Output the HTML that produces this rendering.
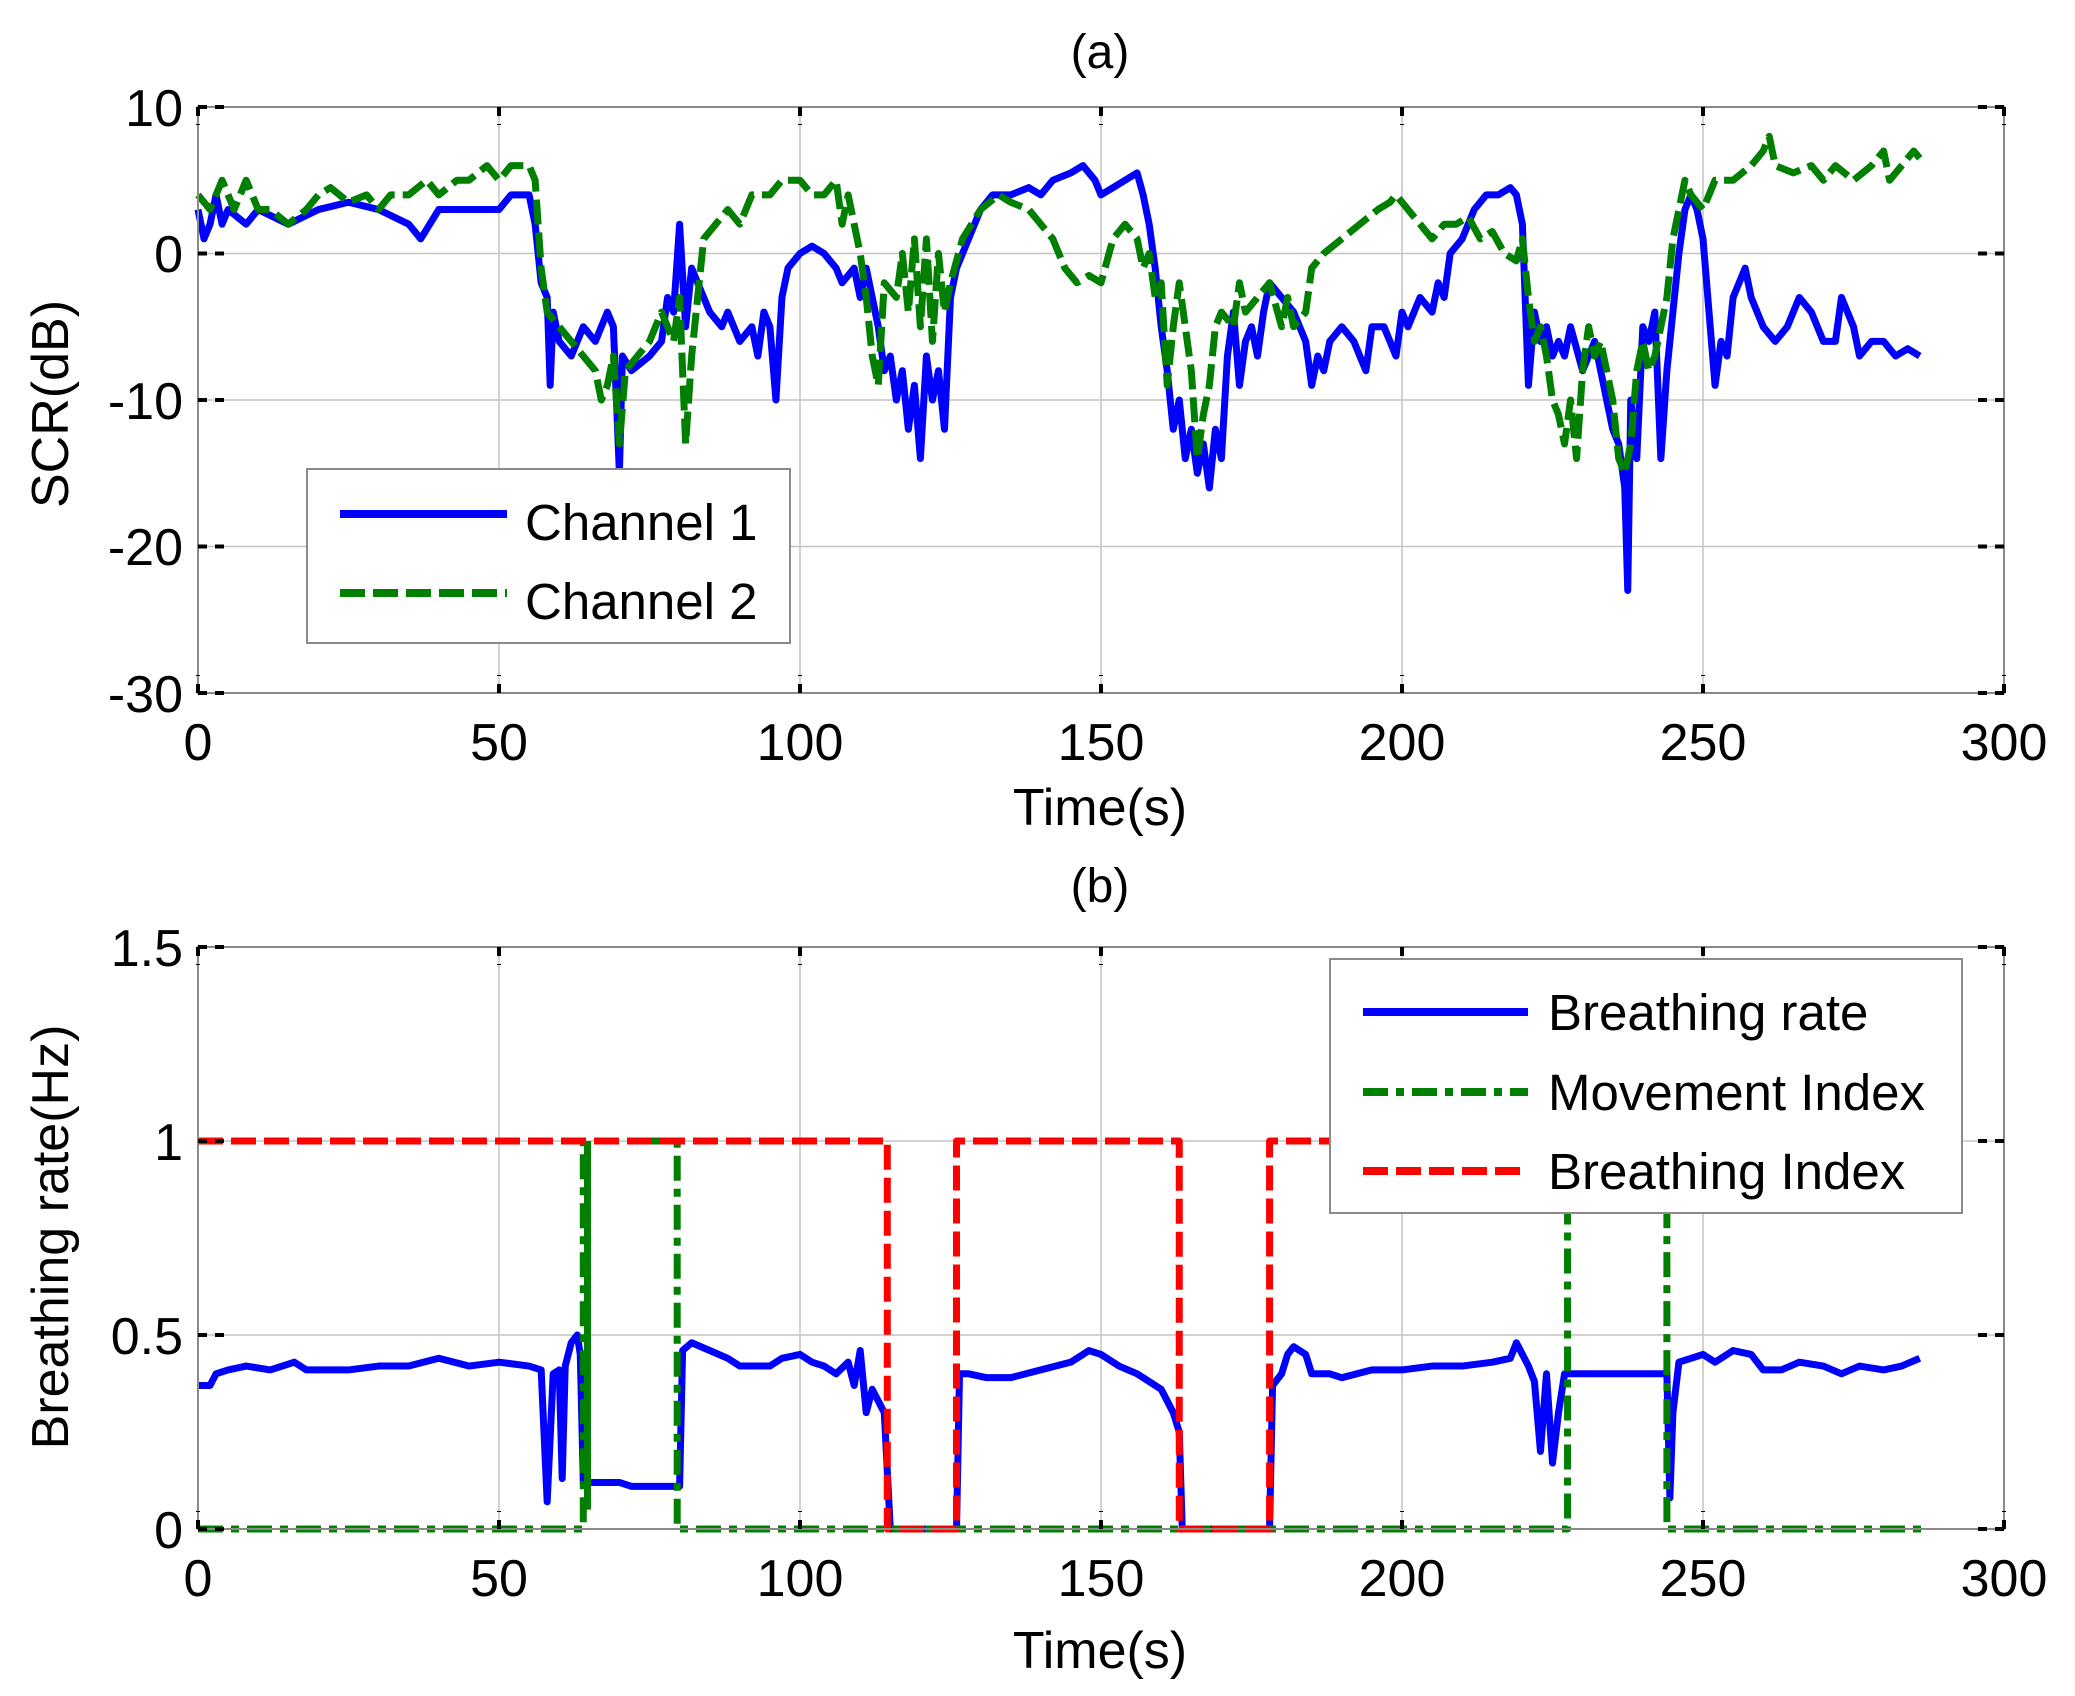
<!DOCTYPE html>
<html><head><meta charset="utf-8"><style>
html,body{margin:0;padding:0;background:#fff;}
svg{display:block;font-family:"Liberation Sans",sans-serif;}
</style></head><body>
<svg width="2075" height="1696" viewBox="0 0 2075 1696" xmlns="http://www.w3.org/2000/svg">
<rect width="2075" height="1696" fill="#fff"/>
<g stroke="#c4c4c4" stroke-width="1.5">
<line x1="499" y1="107" x2="499" y2="693"/><line x1="800" y1="107" x2="800" y2="693"/><line x1="1101" y1="107" x2="1101" y2="693"/><line x1="1402" y1="107" x2="1402" y2="693"/><line x1="1703" y1="107" x2="1703" y2="693"/>
<line x1="198" y1="253.5" x2="2004" y2="253.5"/><line x1="198" y1="400" x2="2004" y2="400"/><line x1="198" y1="546.5" x2="2004" y2="546.5"/>
<line x1="499" y1="947" x2="499" y2="1529"/><line x1="800" y1="947" x2="800" y2="1529"/><line x1="1101" y1="947" x2="1101" y2="1529"/><line x1="1402" y1="947" x2="1402" y2="1529"/><line x1="1703" y1="947" x2="1703" y2="1529"/>
<line x1="198" y1="1141" x2="2004" y2="1141"/><line x1="198" y1="1335" x2="2004" y2="1335"/>
</g>
<g fill="none" stroke-linejoin="round">
<path transform="matrix(6.02,0,0,-14.65,198,253.5)" vector-effect="non-scaling-stroke" stroke="#0000ff" stroke-width="7" d="M0 3 L1 1 L2 2 L3 4 L4 2 L5 3 L8 2 L10 3 L15 2 L20 3 L25 3.5 L30 3 L35 2 L37 1 L40 3 L45 3 L50 3 L52 4 L55 4 L56 2 L57 -2 L58 -3 L58.5 -9 L59 -4 L60 -6 L62 -7 L64 -5 L66 -6 L68 -4 L69 -5 L70 -15 L70.5 -7 L72 -8 L75 -7 L77 -6 L78 -3 L79 -4 L80 2 L81 -5 L82 -1 L84 -3 L85 -4 L87 -5 L88 -4 L90 -6 L92 -5 L93 -7 L94 -4 L95 -5 L96 -10 L97 -3 L98 -1 L100 0 L102 0.5 L104 0 L106 -1 L107 -2 L109 -1 L110 -3 L111 -1 L112 -3 L113 -5 L114 -8 L115 -7 L116 -10 L117 -8 L118 -12 L119 -9 L120 -14 L121 -7 L122 -10 L123 -8 L124 -12 L125 -3 L126 -1 L128 1 L130 3 L132 4 L135 4 L138 4.5 L140 4 L142 5 L145 5.5 L147 6 L149 5 L150 4 L152 4.5 L154 5 L156 5.5 L157 4 L158 2 L159 -1 L160 -5 L161 -8 L162 -12 L163 -10 L164 -14 L165 -12 L166 -15 L167 -13 L168 -16 L169 -12 L170 -14 L171 -7 L172 -4 L173 -9 L174 -6 L175 -5 L176 -7 L177 -4 L178 -2 L180 -3 L182 -4 L184 -6 L185 -9 L186 -7 L187 -8 L188 -6 L190 -5 L192 -6 L194 -8 L195 -5 L197 -5 L199 -7 L200 -4 L201 -5 L203 -3 L205 -4 L206 -2 L207 -3 L208 0 L210 1 L212 3 L214 4 L216 4 L218 4.5 L219 4 L220 2 L221 -9 L222 -4 L223 -6 L224 -5 L225 -7 L226 -6 L227 -7 L228 -5 L230 -8 L232 -6 L234 -10 L235 -12 L236 -13 L237 -16 L237.5 -23 L238 -10 L239 -14 L240 -5 L241 -6 L242 -4 L243 -14 L244 -8 L245 -4 L246 0 L247 3 L248 4 L249 3 L250 1 L251 -4 L252 -9 L253 -6 L254 -7 L255 -3 L256 -2 L257 -1 L258 -3 L260 -5 L262 -6 L264 -5 L266 -3 L268 -4 L270 -6 L272 -6 L273 -3 L275 -5 L276 -7 L278 -6 L280 -6 L282 -7 L284 -6.5 L286 -7"/>
<path transform="matrix(6.02,0,0,-14.65,198,253.5)" vector-effect="non-scaling-stroke" stroke="#007f00" stroke-width="7" stroke-dasharray="25,8" d="M0 4 L2 3 L4 5 L6 3 L8 5 L10 3 L12 3 L15 2 L18 3 L20 4 L22 4.5 L25 3.5 L28 4 L30 3 L32 4 L35 4 L38 5 L40 4 L43 5 L45 5 L48 6 L50 5 L52 6 L55 6 L56 5 L57 -1 L58 -4 L60 -5 L62 -6 L64 -7 L66 -8 L67 -10 L68 -9 L69 -7 L70 -13 L71 -8 L73 -7 L75 -6 L77 -4 L78 -5 L79 -6 L80 -3 L81 -13 L82 -7 L83 -3 L84 1 L86 2 L88 3 L90 2 L92 4 L95 4 L97 5 L100 5 L102 4 L104 4 L106 5 L107 2 L108 4 L110 0 L111 -3 L112 -7 L113 -9 L114 -2 L116 -3 L117 0 L118 -4 L119 1 L120 -5 L121 1 L122 -6 L123 0 L124 -4 L125 -2 L127 1 L130 3 L133 4 L135 3.5 L138 3 L140 2 L142 1 L144 -1 L146 -2 L148 -1.5 L150 -2 L152 1 L154 2 L156 1 L157 -1 L158 0 L159 -3 L160 -2 L161 -9 L162 -5 L163 -2 L164 -5 L165 -8 L166 -14 L167 -11 L168 -9 L169 -5 L170 -4 L172 -5 L173 -2 L174 -4 L176 -3 L178 -2 L180 -5 L181 -3 L182 -5 L184 -4 L185 -1 L187 0 L190 1 L193 2 L196 3 L198 3.5 L199 4 L201 3 L203 2 L205 1 L207 2 L209 2 L211 2.5 L213 1 L215 1.5 L217 0 L219 -0.5 L220 1 L221 -3 L222 -6 L223 -5 L224 -7 L225 -10 L226 -11 L227 -13 L228 -10 L229 -14 L230 -8 L231 -5 L232 -7 L233 -6 L235 -10 L236 -14 L237 -15 L238 -13 L239 -8 L240 -6 L241 -8 L242 -7 L244 -3 L245 1 L246 3 L247 5 L248 4 L250 3 L252 5 L255 5 L258 6 L260 7 L261 8 L262 6 L265 5.5 L268 6 L270 5 L272 6 L275 5 L278 6 L280 7 L281 5 L283 6 L285 7 L286 6.5"/>
<path transform="matrix(6.02,0,0,-388,198,1529)" vector-effect="non-scaling-stroke" stroke="#0000ff" stroke-width="7" d="M0 0.37 L2 0.37 L3 0.4 L5 0.41 L8 0.42 L12 0.41 L16 0.43 L18 0.41 L25 0.41 L30 0.42 L35 0.42 L40 0.44 L45 0.42 L50 0.43 L55 0.42 L57 0.41 L58 0.07 L59 0.4 L60 0.41 L60.5 0.13 L61 0.42 L62 0.48 L63 0.5 L63.5 0.45 L64 0.12 L70 0.12 L72 0.11 L80 0.11 L80.5 0.46 L82 0.48 L85 0.46 L88 0.44 L90 0.42 L95 0.42 L97 0.44 L100 0.45 L102 0.43 L104 0.42 L106 0.4 L108 0.43 L109 0.37 L110 0.46 L111 0.3 L112 0.36 L113 0.33 L114 0.3 L115 0 L126 0 L126.5 0.4 L128 0.4 L131 0.39 L135 0.39 L140 0.41 L145 0.43 L148 0.46 L150 0.45 L153 0.42 L156 0.4 L160 0.36 L162 0.3 L163 0.25 L163.5 0 L178 0 L178.5 0.37 L180 0.4 L181 0.45 L182 0.47 L184 0.45 L185 0.4 L188 0.4 L190 0.39 L195 0.41 L200 0.41 L205 0.42 L210 0.42 L215 0.43 L218 0.44 L219 0.48 L220 0.45 L221 0.42 L222 0.38 L223 0.2 L224 0.4 L225 0.17 L226 0.3 L227 0.4 L244 0.4 L244.5 0.08 L245 0.3 L246 0.43 L248 0.44 L250 0.45 L252 0.43 L255 0.46 L258 0.45 L260 0.41 L263 0.41 L266 0.43 L270 0.42 L273 0.4 L276 0.42 L280 0.41 L283 0.42 L286 0.44"/>
<path transform="matrix(6.02,0,0,-388,198,1529)" vector-effect="non-scaling-stroke" stroke="#007f00" stroke-width="7" stroke-dasharray="25,8,8,8" d="M0 0 L64 0 L64 1 L79.6 1 L79.6 0 L227.5 0 L227.5 1 L244 1 L244 0 L287 0"/>
<path transform="matrix(6.02,0,0,-388,198,1529)" vector-effect="non-scaling-stroke" stroke="#007f00" stroke-width="7" d="M64.7 0.05 L64.7 1"/>
<path transform="matrix(6.02,0,0,-388,198,1529)" vector-effect="non-scaling-stroke" stroke="#ff0000" stroke-width="7" stroke-dasharray="25,8" d="M0 1 L114.5 1 L114.5 0 L126 0 L126 1 L163 1 L163 0 L178 0 L178 1 L287 1"/>
</g>
<g fill="none" stroke="#8a8a8a" stroke-width="2">
<rect x="198" y="107" width="1806" height="586"/>
<rect x="198" y="947" width="1806" height="582"/>
</g>
<g stroke="#000" stroke-width="4" stroke-dasharray="9,8">
<path d="M198 107v18M499 107v18M800 107v18M1101 107v18M1402 107v18M1703 107v18M2004 107v18 M198 693v-18M499 693v-18M800 693v-18M1101 693v-18M1402 693v-18M1703 693v-18M2004 693v-18 M198 947v18M499 947v18M800 947v18M1101 947v18M1402 947v18M1703 947v18M2004 947v18 M198 1529v-18M499 1529v-18M800 1529v-18M1101 1529v-18M1402 1529v-18M1703 1529v-18M2004 1529v-18"/>
<path d="M198 107h26M198 253.5h26M198 400h26M198 546.5h26M198 693h26 M2004 107h-26M2004 253.5h-26M2004 400h-26M2004 546.5h-26M2004 693h-26 M198 947h26M198 1141h26M198 1335h26M198 1529h26 M2004 947h-26M2004 1141h-26M2004 1335h-26M2004 1529h-26"/>
</g>
<g font-size="52" fill="#000" text-anchor="middle">
<text x="198" y="760">0</text><text x="499" y="760">50</text><text x="800" y="760">100</text><text x="1101" y="760">150</text><text x="1402" y="760">200</text><text x="1703" y="760">250</text><text x="2004" y="760">300</text>
<text x="198" y="1596">0</text><text x="499" y="1596">50</text><text x="800" y="1596">100</text><text x="1101" y="1596">150</text><text x="1402" y="1596">200</text><text x="1703" y="1596">250</text><text x="2004" y="1596">300</text>
</g>
<g font-size="52" fill="#000" text-anchor="end">
<text x="183" y="126">10</text><text x="183" y="272">0</text><text x="183" y="419">-10</text><text x="183" y="565">-20</text><text x="183" y="712">-30</text>
<text x="183" y="966">1.5</text><text x="183" y="1160">1</text><text x="183" y="1354">0.5</text><text x="183" y="1548">0</text>
</g>
<text x="1100" y="68" font-size="48" text-anchor="middle">(a)</text>
<text x="1100" y="902" font-size="48" text-anchor="middle">(b)</text>
<text x="1100" y="825" font-size="52" text-anchor="middle">Time(s)</text>
<text x="1100" y="1668" font-size="52" text-anchor="middle">Time(s)</text>
<text transform="translate(68,404) rotate(-90)" font-size="52" text-anchor="middle">SCR(dB)</text>
<text transform="translate(68,1237) rotate(-90)" font-size="52" text-anchor="middle">Breathing rate(Hz)</text>
<rect x="307" y="469" width="483" height="174" fill="#fff" stroke="#8a8a8a" stroke-width="2"/>
<line x1="340" y1="514" x2="507" y2="514" stroke="#0000ff" stroke-width="8"/>
<line x1="340" y1="593" x2="507" y2="593" stroke="#007f00" stroke-width="8" stroke-dasharray="25,8"/>
<text x="525" y="540" font-size="51">Channel 1</text>
<text x="525" y="619" font-size="51">Channel 2</text>
<rect x="1330" y="959" width="632" height="254" fill="#fff" stroke="#8a8a8a" stroke-width="2"/>
<line x1="1363" y1="1012" x2="1528" y2="1012" stroke="#0000ff" stroke-width="8"/>
<line x1="1363" y1="1092" x2="1528" y2="1092" stroke="#007f00" stroke-width="8" stroke-dasharray="25,8,8,8"/>
<line x1="1363" y1="1171" x2="1528" y2="1171" stroke="#ff0000" stroke-width="8" stroke-dasharray="25,8"/>
<text x="1548" y="1030" font-size="51">Breathing rate</text>
<text x="1548" y="1110" font-size="51">Movement Index</text>
<text x="1548" y="1189" font-size="51">Breathing Index</text>
</svg>
</body></html>
